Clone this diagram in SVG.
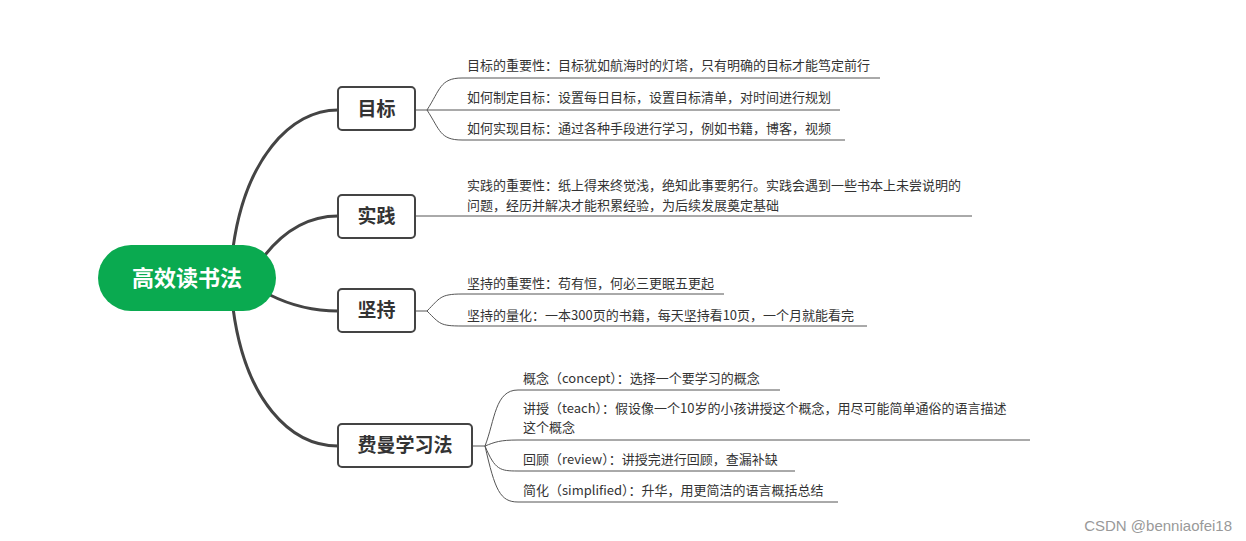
<svg xmlns="http://www.w3.org/2000/svg" width="1246" height="541" viewBox="0 0 1246 541">
<style>
.t{font-family:"Noto Sans CJK SC","Liberation Sans",sans-serif;font-size:13px;fill:#333}
.b{fill:#fff;stroke:#444;stroke-width:2}
.bt{font-family:"Noto Sans CJK SC",sans-serif;font-size:19px;font-weight:bold;fill:#333;text-anchor:middle}
.m{fill:none;stroke:#444;stroke-width:3}
.l{fill:none;stroke:#555;stroke-width:1}
</style>
<rect width="1246" height="541" fill="#fff"/>
<g id="connectors">
<path class="m" d="M233,248 C245,160 290,110 338,110"/>
<path class="m" d="M265,255 C285,230 310,216 338,216"/>
<path class="m" d="M270,295 C290,305 310,311 338,311"/>
<path class="m" d="M233,308 C245,400 290,446 338,446"/>
<path class="l" d="M415,110 H840 M427,110 C440,90 440,78 462,78 H880 M427,110 C440,130 440,140 462,140 H845"/>
<path class="l" d="M415,216 H972"/>
<path class="l" d="M415,311 H427 C440,298 440,294 462,294 H724 M427,311 C440,324 440,326 462,326 H867"/>
<path class="l" d="M472,446 H485 C495,420 495,390 518,390 H780 M485,446 C495,442 500,440 518,440 H1030 M485,446 C495,470 500,471 518,471 H795 M485,446 C495,490 500,502 518,502 H838"/>
</g>
<g id="root"><rect x="98" y="245" width="178" height="66" rx="33" fill="#0AAA50"/><text x="187" y="286" font-family="Noto Sans CJK SC,sans-serif" font-size="22" font-weight="bold" fill="#fff" text-anchor="middle">高效读书法</text></g>
<g id="n1"><rect class="b" x="338" y="87" width="77" height="43" rx="4"/><text class="bt" x="376.5" y="116">目标</text></g>
<g id="n2"><rect class="b" x="338" y="195" width="77" height="43" rx="4"/><text class="bt" x="376.5" y="223">实践</text></g>
<g id="n3"><rect class="b" x="338" y="289" width="77" height="43" rx="4"/><text class="bt" x="376.5" y="317">坚持</text></g>
<g id="n4"><rect class="b" x="338" y="424" width="134" height="43" rx="4"/><text class="bt" x="405" y="452">费曼学习法</text></g>
<g id="leaves">
<text class="t" x="467" y="70">目标的重要性：目标犹如航海时的灯塔，只有明确的目标才能笃定前行</text>
<text class="t" x="467" y="102">如何制定目标：设置每日目标，设置目标清单，对时间进行规划</text>
<text class="t" x="467" y="133">如何实现目标：通过各种手段进行学习，例如书籍，博客，视频</text>
<text class="t" x="467" y="190">实践的重要性：纸上得来终觉浅，绝知此事要躬行。实践会遇到一些书本上未尝说明的</text>
<text class="t" x="467" y="210">问题，经历并解决才能积累经验，为后续发展奠定基础</text>
<text class="t" x="467" y="288">坚持的重要性：苟有恒，何必三更眠五更起</text>
<text class="t" x="467" y="320">坚持的量化：一本300页的书籍，每天坚持看10页，一个月就能看完</text>
<text class="t" x="523" y="383">概念（concept）：选择一个要学习的概念</text>
<text class="t" x="523" y="413">讲授（teach）：假设像一个10岁的小孩讲授这个概念，用尽可能简单通俗的语言描述</text>
<text class="t" x="523" y="432">这个概念</text>
<text class="t" x="523" y="464">回顾（review）：讲授完进行回顾，查漏补缺</text>
<text class="t" x="523" y="495">简化（simplified）：升华，用更简洁的语言概括总结</text>
</g>
<text x="1232" y="531" font-family="Liberation Sans,sans-serif" font-size="15" fill="#999" text-anchor="end">CSDN @benniaofei18</text>
</svg>
